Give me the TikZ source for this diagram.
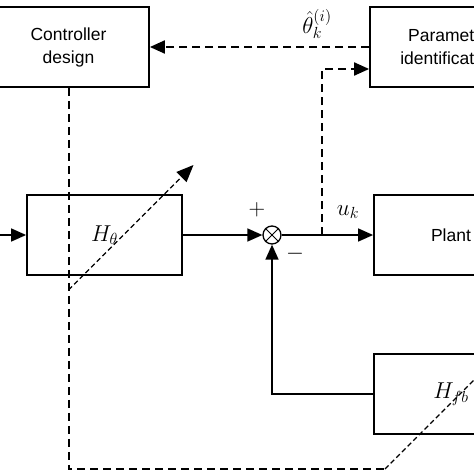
\documentclass[tikz,border=0pt]{standalone}
\usepackage{fix-cm}
\usepackage{fontspec}
\setmainfont{Liberation Sans}
\usetikzlibrary{arrows.meta,calc}
\newcommand{\MainY}{235}
\newcommand{\TapX}{68.5}
\newcommand{\BotY}{469}
\tikzset{
  blockbox/.style={draw,line width=1.8pt,minimum height=80pt,inner sep=0pt,
    align=center,font=\fontsize{17.5}{23}\selectfont},
  sumnode/.style={draw,circle,line width=1.3pt,minimum size=18pt,inner sep=0pt},
  sigline/.style={line width=1.5pt,-{Triangle[length=15pt,width=13pt]}},
  infoline/.style={line width=2pt,dash pattern=on 8pt off 5pt},
  infoarrow/.style={infoline,-{Triangle[length=15pt,width=13pt]}},
  tuneline/.style={line width=1.2pt,dash pattern=on 5pt off 3pt,
    -{Triangle[length=17pt,width=14pt]}},
  mathlabel/.style={font=\fontsize{23}{27}\selectfont}
}
\begin{document}
\begin{tikzpicture}[x=1pt,y=-1pt]
  \useasboundingbox (0,0) rectangle (474,474);
  \clip (0,0) rectangle (474,474);

  % blocks
  \node[blockbox,minimum width=161pt] (ctrl) at (\TapX,47) {Controller\\design};
  \node[blockbox,minimum width=158pt] (param) at (449,47) {Parameter\\identification};
  \node[blockbox,minimum width=155pt,mathlabel] (hth) at (104.5,\MainY) {$H_\theta$};
  \node[blockbox,minimum width=154pt] (plant) at (451,\MainY) {Plant};
  \node[blockbox,minimum width=154pt,mathlabel] (hfb) at (451,394) {$H_{fb}$};
  \node[sumnode] (sum) at (272,\MainY) {};
  \draw[line width=0.9pt] (sum.north west) -- (sum.south east)
    (sum.north east) -- (sum.south west);

  % labels
  \node[mathlabel] (thetalab) at (317,24) {$\hat{\theta}_k^{(i)}$};
  \node[mathlabel] (uklab) at (348,212) {$u_k$};
  \node[mathlabel] (plus) at (257,210) {$+$};
  \node[mathlabel] (minus) at (295,254) {$-$};

  \coordinate (in) at (-5,\MainY);
  \coordinate (jn) at (322,\MainY);
  \coordinate (bl) at (\TapX,\BotY);
  \coordinate (br) at (385,\BotY);
  \coordinate (tip2) at (505,349);
  \coordinate (tap) at (\TapX,290);
  \coordinate (tip1) at (193.5,165);

  % signal path
  \draw[sigline] (in) -- (hth);
  \draw[sigline] (hth) -- (sum);
  \draw[sigline] (sum) -- (plant);
  \draw[sigline] (hfb.west) -| (sum);

  % adaptation loop
  \draw[infoarrow] (jn) |- ([yshift=-22pt]param.west);
  \draw[infoarrow] (param.west) -- (ctrl.east);
  \draw[infoline] (ctrl.south) -- (bl) -- (br);
  \draw[tuneline] (br) -- (tip2);
  \draw[tuneline] (tap) -- (tip1);
\end{tikzpicture}
\end{document}
